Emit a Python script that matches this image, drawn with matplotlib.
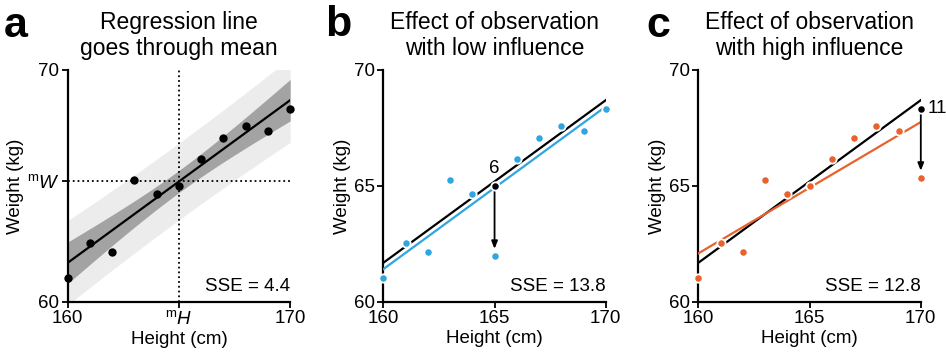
import numpy as np
import matplotlib
matplotlib.use('Agg')
import matplotlib.pyplot as plt

plt.rcParams['font.family'] = ['Liberation Sans', 'DejaVu Sans']
plt.rcParams['mathtext.fontset'] = 'custom'
plt.rcParams['mathtext.rm'] = 'Liberation Sans'
plt.rcParams['mathtext.it'] = 'Liberation Sans:italic'

# data
heights = [160, 161, 162, 163, 164, 165, 166, 167, 168, 169, 170]
weights = [61.04, 62.52, 62.14, 65.25, 64.65, 64.99, 66.16, 67.06, 67.57, 67.37, 68.32]
low_idx = 5          # observation 6
low_new = 61.98
high_idx = 10        # observation 11
high_new = 65.35
titles = ['Regression line\ngoes through mean',
          'Effect of observation\nwith low influence',
          'Effect of observation\nwith high influence']
letters = ['a', 'b', 'c']
sse_labels = ['SSE = 4.4', 'SSE = 13.8', 'SSE = 12.8']
t95 = 2.262  # t(0.975, 9 df)

BLUE = '#2fa6df'
ORANGE = '#e8622d'

W, H = 946, 360
fig = plt.figure(figsize=(W / 100, H / 100), dpi=100)

x = np.array(heights, float)
y = np.array(weights, float)


def fit(xx, yy):
    b, a = np.polyfit(xx, yy, 1)
    return b, a


def style_axes(ax):
    ax.set_xlim(160, 170)
    ax.set_ylim(60, 70)
    for s in ['top', 'right']:
        ax.spines[s].set_visible(False)
    for s in ['left', 'bottom']:
        ax.spines[s].set_linewidth(1.6)
    ax.tick_params(direction='out', length=4, width=1.3, labelsize=13.5, pad=2)
    ax.set_xlabel('Height (cm)', fontsize=13.5, labelpad=2)
    ax.set_ylabel('Weight (kg)', fontsize=13.5, labelpad=2)


lefts = [67.7, 383.3, 698.3]
axes = []
for i in range(3):
    ax = fig.add_axes([lefts[i] / W, 1 - 301.7 / H, 222.5 / W, 231.7 / H])
    style_axes(ax)
    ax.set_title(titles[i], fontsize=16.5, pad=11, linespacing=1.15)
    ax.text(170, 60.3, sse_labels[i], ha='right', va='bottom', fontsize=13.5)
    axes.append(ax)

fig.text(16 / W, 1 - 37 / H, 'a', fontsize=31, fontweight='bold', ha='center', va='baseline')
fig.text(338 / W, 1 - 36 / H, 'b', fontsize=31, fontweight='bold', ha='center', va='baseline')
fig.text(658 / W, 1 - 37 / H, 'c', fontsize=31, fontweight='bold', ha='center', va='baseline')

xs = np.linspace(160, 170, 200)
dot = dict(ms=6, mew=1.3, mec='white', clip_on=False, zorder=5, ls='none', marker='o')

# panel a
ax = axes[0]
b, a = fit(x, y)
n = len(x)
mx, my = x.mean(), y.mean()
sse = np.sum((y - (a + b * x)) ** 2)
s = np.sqrt(sse / (n - 2))
sxx = np.sum((x - mx) ** 2)
yfit = a + b * xs
ci = t95 * s * np.sqrt(1 / n + (xs - mx) ** 2 / sxx)
pi = t95 * s * np.sqrt(1 + 1 / n + (xs - mx) ** 2 / sxx)
ax.fill_between(xs, yfit - pi, yfit + pi, color='#ececec', lw=0, zorder=1)
ax.fill_between(xs, yfit - ci, yfit + ci, color='#a3a3a3', lw=0, zorder=2)
ax.plot(xs, yfit, color='black', lw=1.6, zorder=3)
ax.plot([mx, mx], [60, 70], color='black', ls=':', lw=1.3, zorder=3)
ax.plot([160, 170], [my, my], color='black', ls=':', lw=1.3, zorder=3)
ax.plot(x, y, 'o', color='black', ms=6, mew=0, clip_on=False, zorder=5)
ax.set_xticks([160, mx, 170])
ax.set_xticklabels(['160', r'$^{\mathrm{m}}H$', '170'])
ax.set_yticks([60, my, 70])
ax.set_yticklabels(['60', r'$^{\mathrm{m}}W$', '70'])

# panels b and c
for ax, idx, new, col, lab, dx, dy, ha in [
        (axes[1], low_idx, low_new, BLUE, '6', 0, 0.4, 'center'),
        (axes[2], high_idx, high_new, ORANGE, '11', 0.3, 0, 'left')]:
    y2 = y.copy()
    y2[idx] = new
    b2, a2 = fit(x, y2)
    ax.plot(xs, a + b * xs, color='black', lw=1.6, zorder=3)
    ax.plot(xs, a2 + b2 * xs, color=col, lw=1.6, zorder=3)
    ax.plot(x, y2, color=col, **dot)
    ax.plot([x[idx]], [y[idx]], color='black', **dot)
    ax.annotate('', xy=(x[idx], new + 0.3), xytext=(x[idx], y[idx] - 0.1),
                arrowprops=dict(arrowstyle='-|>,head_length=0.45,head_width=0.18',
                                color='black', lw=1.3, shrinkA=0, shrinkB=0),
                annotation_clip=False, zorder=4)
    ax.text(x[idx] + dx, y[idx] + dy, lab, ha=ha,
            va='bottom' if dy else 'center', fontsize=13.5)
    ax.set_xticks([160, 165, 170])
    ax.set_yticks([60, 65, 70])

fig.savefig('out.png', dpi=100)
